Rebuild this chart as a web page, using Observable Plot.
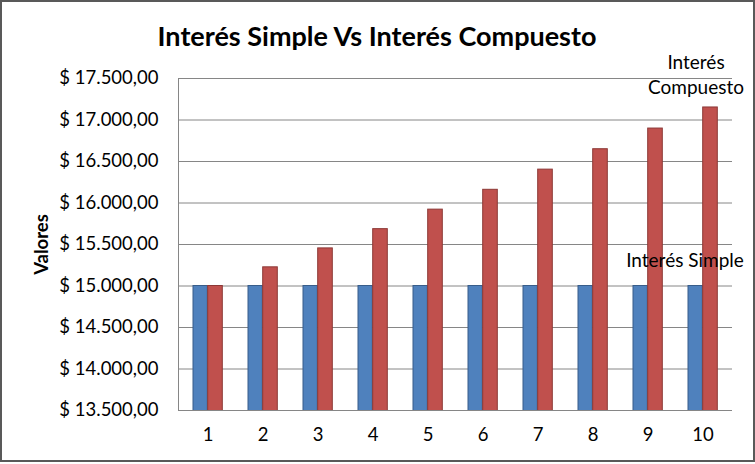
<!DOCTYPE html>
<html><head><meta charset="utf-8">
<script src="https://cdn.jsdelivr.net/npm/d3@7"></script>
<script src="https://cdn.jsdelivr.net/npm/@observablehq/plot@0.6"></script>
<style>
html,body{margin:0;padding:0;background:#fff;}
#wrap{position:relative;width:755px;height:464px;overflow:hidden;}
#border{position:absolute;left:0;top:0;width:751px;height:458px;border:2px solid #595959;pointer-events:none;}
</style></head><body><div id="wrap"><div id="border"></div></div>
<script>
const periods = [1, 2, 3, 4, 5, 6, 7, 8, 9, 10];
const simple = [15000, 15000, 15000, 15000, 15000, 15000, 15000, 15000, 15000, 15000];
const compuesto = [15000, 15225, 15453, 15685, 15920, 16159, 16402, 16648, 16897, 17151];
const yTicks = [13500, 14000, 14500, 15000, 15500, 16000, 16500, 17000, 17500];
const title = "Interés Simple Vs Interés Compuesto";
const yLabel = "Valores";
const seriesNames = ["Interés Simple", "Interés\nCompuesto"];

const locale = d3.formatLocale({decimal: ",", thousands: ".", grouping: [3], currency: ["$ ", ""]});
const fmt = locale.format("$,.2f");
const rows = periods.map((p, i) => ({period: p, simple: simple[i], compuesto: compuesto[i]}));
const last = [rows[rows.length - 1]];

const chart = Plot.plot({
  width: 755, height: 464,
  marginLeft: 178, marginRight: 23, marginTop: 78, marginBottom: 54,
  style: {fontFamily: "Lato", fontSize: "19px", color: "#000", background: "transparent"},
  x: {type: "band", domain: periods, padding: 0, label: null},
  y: {domain: [yTicks[0], yTicks[yTicks.length - 1]], label: null},
  marks: [
    Plot.ruleY(yTicks, {stroke: "#868686", strokeWidth: 1, strokeOpacity: 1}),
    Plot.frame({anchor: "left", stroke: "#868686", strokeOpacity: 1}),
    Plot.barY(rows, {x: "period", y: "simple", fill: "#4F81BD", stroke: "#385D8A", strokeWidth: 1, insetLeft: 13, insetRight: 27.7, clip: true}),
    Plot.barY(rows, {x: "period", y: "compuesto", fill: "#C0504D", stroke: "#8C3836", strokeWidth: 1, insetLeft: 27.7, insetRight: 12.7, clip: true}),
    Plot.axisY({ticks: yTicks, tickSize: 0, tickPadding: 20, tickFormat: fmt, fontSize: 18.5}),
    Plot.axisX({tickSize: 0, tickPadding: 17, fontSize: 18.5}),
    Plot.text(last, {x: "period", y: "simple", text: () => seriesNames[0], dx: -18, dy: -25, fontSize: 19}),
    Plot.text(last, {x: "period", y: "compuesto", text: () => seriesNames[1], dx: -7, dy: -34, fontSize: 19, lineHeight: 1.3}),
    Plot.text([yLabel], {frameAnchor: "left", textAnchor: "middle", dx: -136, rotate: -90, fontWeight: "bold", fontSize: 18.5}),
    Plot.text([title], {frameAnchor: "top", lineAnchor: "middle", dx: -78.5, dy: -41, fontWeight: "bold", fontSize: 27})
  ]
});
document.getElementById("wrap").prepend(chart);
</script>
</body></html>
